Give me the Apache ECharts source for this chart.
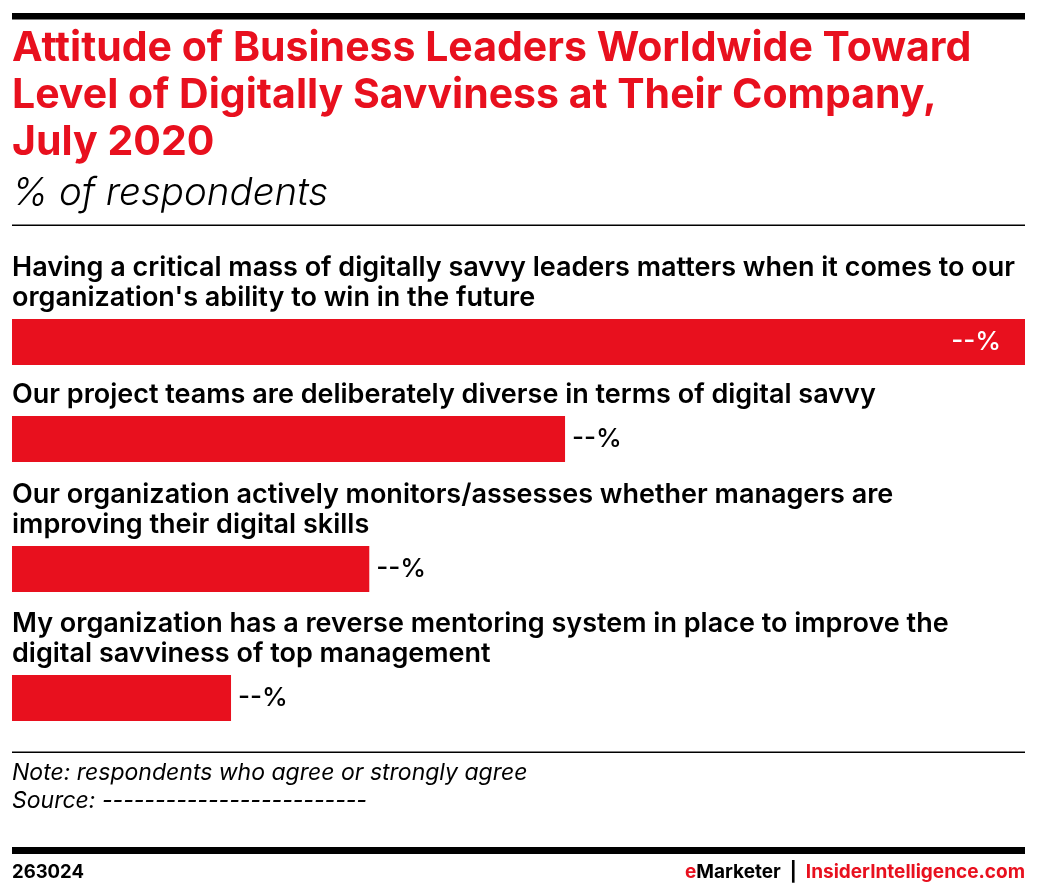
<!DOCTYPE html>
<html>
<head>
<meta charset="utf-8">
<title>Attitude of Business Leaders Worldwide Toward Level of Digitally Savviness</title>
<script src="https://cdn.jsdelivr.net/npm/echarts@6/dist/echarts.min.js"></script>
<style>
  html, body { margin: 0; padding: 0; background: #fff; }
  #chart { width: 1038px; height: 896px; }
</style>
</head>
<body>
<div id="chart"></div>
<script>
// data
var categories = [
  ["Having a critical mass of digitally savvy leaders matters when it comes to our", "organization's ability to win in the future"],
  ["Our project teams are deliberately diverse in terms of digital savvy"],
  ["Our organization actively monitors/assesses whether managers are", "improving their digital skills"],
  ["My organization has a reverse mentoring system in place to improve the", "digital savviness of top management"]
];
var values = [74, 40.4, 26.1, 16];
var valueLabels = ["--%", "--%", "--%", "--%"];

var titleLines = [
  "Attitude of Business Leaders Worldwide Toward",
  "Level of Digitally Savviness at Their Company,",
  "July 2020"
];
var subtitle = "% of respondents";
var noteLines = ["Note: respondents who agree or strongly agree", "Source: -------------------------"];
var chartId = "263024";

var RED = "#e8101e";
var FONT = "Inter, 'Noto Sans', sans-serif";
var LEFT = 12;
var RIGHT = 13;
var barTops = [319, 416, 546, 675];
var barHeight = 46;

var chart = echarts.init(document.getElementById("chart"), null, { renderer: "canvas" });

var grids = [];
var xAxes = [];
var yAxes = [];
var series = [];
var graphics = [];

function line(y, h) {
  return {
    type: "rect",
    shape: { x: LEFT, y: y, width: 1038 - LEFT - RIGHT, height: h },
    style: { fill: "#000" },
    silent: true
  };
}

function text(str, x, y, size, weight, style, fill, align) {
  return {
    type: "text",
    x: x,
    y: y,
    silent: true,
    style: {
      text: str,
      fontFamily: FONT,
      fontSize: size,
      fontWeight: weight,
      fontStyle: style || "normal",
      fill: fill || "#000",
      align: align || "left",
      verticalAlign: "middle"
    }
  };
}

graphics.push(line(13, 6.5));
titleLines.forEach(function(t, i) {
  graphics.push(text(t, LEFT, 49 + i * 47, 41, 700, "normal", RED));
});
graphics.push(text(subtitle, LEFT, 193, 38.5, 300, "italic", "#000"));
graphics.push(line(224.5, 1.5));

categories.forEach(function(lines, i) {
  var n = lines.length;
  lines.forEach(function(t, j) {
    graphics.push(text(t, LEFT, barTops[i] - 21 - (n - 1 - j) * 30, 27, 600, "normal", "#000"));
  });

  grids.push({ left: LEFT, right: RIGHT, top: barTops[i], height: barHeight });
  xAxes.push({
    type: "value",
    gridIndex: i,
    min: 0,
    max: values[0],
    show: false
  });
  yAxes.push({
    type: "category",
    gridIndex: i,
    data: [lines.join(" ")],
    show: false
  });
  series.push({
    type: "bar",
    xAxisIndex: i,
    yAxisIndex: i,
    data: [values[i]],
    barWidth: barHeight,
    itemStyle: { color: RED },
    silent: true,
    label: {
      show: true,
      position: i === 0 ? "insideRight" : "right",
      distance: i === 0 ? 24 : 7,
      formatter: valueLabels[i],
      color: i === 0 ? "#fff" : "#000",
      fontFamily: FONT,
      fontSize: 26,
      fontWeight: 500
    }
  });
});

graphics.push(line(751.5, 1.5));
noteLines.forEach(function(t, i) {
  graphics.push(text(t, LEFT, 773 + i * 28, 23, 400, "italic", "#000"));
});
graphics.push(line(847, 7));
graphics.push(text(chartId, LEFT, 872, 18.5, 700, "normal", "#000"));
graphics.push({
  type: "text",
  x: 1038 - RIGHT,
  y: 872,
  silent: true,
  style: {
    text: "{r|e}{k|Marketer  |  }{r|InsiderIntelligence.com}",
    align: "right",
    verticalAlign: "middle",
    rich: {
      r: { fill: RED, fontFamily: FONT, fontSize: 19, fontWeight: 700 },
      k: { fill: "#000", fontFamily: FONT, fontSize: 19, fontWeight: 700 }
    }
  }
});

chart.setOption({
  backgroundColor: "#fff",
  animation: false,
  grid: grids,
  xAxis: xAxes,
  yAxis: yAxes,
  series: series,
  graphic: { elements: graphics }
});
</script>
</body>
</html>
